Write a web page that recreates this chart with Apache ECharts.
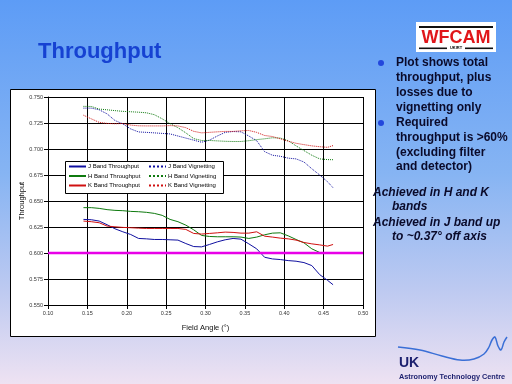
<!DOCTYPE html>
<html>
<head>
<meta charset="utf-8">
<script src="https://cdn.jsdelivr.net/npm/echarts@6/dist/echarts.min.js"></script>
<style>
html,body{margin:0;padding:0;}
#c{width:512px;height:384px;}
</style>
</head>
<body>
<div id="c"></div>
<script>
// ---- data ----
const fieldAngle = [0.145,0.155,0.165,0.175,0.185,0.195,0.205,0.215,0.225,0.235,0.245,0.255,0.265,0.275,0.285,0.295,0.305,0.315,0.325,0.335,0.345,0.355,0.365,0.375,0.385,0.395,0.405,0.415,0.425,0.435,0.445,0.455,0.462];
const jThroughput = [0.6323,0.6320,0.6307,0.6272,0.6233,0.6204,0.6178,0.6140,0.6136,0.6130,0.6130,0.6127,0.6124,0.6091,0.6062,0.6059,0.6082,0.6107,0.6127,0.6140,0.6133,0.6088,0.6040,0.5959,0.5943,0.5937,0.5927,0.5921,0.5908,0.5879,0.5792,0.5737,0.5695];
const hThroughput = [0.6436,0.6436,0.6429,0.6417,0.6410,0.6407,0.6400,0.6397,0.6391,0.6381,0.6362,0.6323,0.6301,0.6268,0.6223,0.6169,0.6159,0.6156,0.6156,0.6156,0.6153,0.6140,0.6153,0.6175,0.6191,0.6194,0.6165,0.6130,0.6098,0.6040,0.6005,null,null];
const kThroughput = [0.6307,0.6301,0.6291,0.6259,0.6252,0.6246,0.6243,0.6239,0.6236,0.6236,0.6236,0.6236,0.6236,0.6227,0.6188,0.6182,0.6188,0.6194,0.6201,0.6198,0.6191,0.6191,0.6204,0.6162,0.6153,0.6143,0.6136,0.6124,0.6101,0.6088,0.6078,0.6066,0.6082];
const jVignetting = [0.7393,0.7393,0.7377,0.7338,0.7274,0.7242,0.7193,0.7164,0.7160,0.7155,0.7150,0.7145,0.7125,0.7105,0.7085,0.7065,0.7085,0.7125,0.7160,0.7168,0.7165,0.7125,0.7080,0.6975,0.6940,0.6930,0.6912,0.6905,0.6875,0.6810,0.6750,0.6685,0.6627];
const hVignetting = [0.7410,0.7409,0.7384,0.7377,0.7369,0.7362,0.7358,0.7354,0.7348,0.7330,0.7290,0.7244,0.7205,0.7155,0.7100,0.7082,0.7082,0.7078,0.7074,0.7072,0.7072,0.7080,0.7090,0.7098,0.7108,0.7105,0.7080,0.7030,0.6985,0.6940,0.6905,0.6898,0.6897];
const kVignetting = [0.7325,0.7290,0.7256,0.7246,0.7243,0.7245,0.7230,0.7223,0.7222,0.7222,0.7222,0.7225,0.7222,0.7205,0.7170,0.7155,0.7160,0.7165,0.7169,0.7169,0.7175,0.7178,0.7160,0.7130,0.7120,0.7098,0.7075,0.7055,0.7042,0.7030,0.7022,0.7016,0.7033];
const requiredX = [0.10, 0.50];
const requiredY = [0.60, 0.60];
const seriesNames = ['J Band Throughput','H Band Throughput','K Band Throughput','J Band Vignetting','H Band Vignetting','K Band Vignetting'];
const xTitle = 'Field Angle (°)';
const yTitle = 'Throughput';

// ---- build ----
const FONT = '"Liberation Sans", Arial, sans-serif';
function pairs(xs, ys){ const out=[]; xs.forEach((x,i)=>{ if(ys[i]!=null) out.push([x, ys[i]]); }); return out; }
const cols = {J:'#1010a0', H:'#0f7a0f', K:'#d01010'};
function mk(name, ys, color, dotted){
  return {name, type:'line', data:pairs(fieldAngle, ys), symbol:'none', smooth:false,
    lineStyle:{color, width:1, type: dotted ? 'dotted' : 'solid'}, itemStyle:{color}, z:2, animation:false};
}
const chart = echarts.init(document.getElementById('c'), null, {renderer:'canvas'});
const txt = (x,y,s,font,fill,align)=>({type:'text', x, y, z:10, silent:true,
  style:{text:s, font, fill, align: align||'left', verticalAlign:'middle'}});
const bodyFont = 'bold 12px ' + FONT;
const itFont = 'italic bold 12px ' + FONT;
const ink = '#0a0a2a';
const legendBase = {orient:'vertical', top:163.5, padding:0, itemWidth:17, itemHeight:5, itemGap:3.5, z:5,
  itemStyle:{opacity:0, borderWidth:0},
  textStyle:{fontSize:6, color:'#000', lineHeight:6, padding:[0,0,0,-3]}};
chart.setOption({
  animation:false,
  backgroundColor: new echarts.graphic.LinearGradient(0,0,0,1,[
    {offset:0, color:'#5d9cf6'},{offset:0.45, color:'#86b4f3'},{offset:0.75, color:'#bcc9f1'},{offset:1, color:'#eee2f2'}]),
  textStyle:{fontFamily:FONT},
  grid:{left:48, right:149, top:97, bottom:79, containLabel:false},
  xAxis:{type:'value', min:0.10, max:0.50, interval:0.05,
    name:xTitle, nameLocation:'middle', nameGap:19, nameMoveOverlap:false, nameTextStyle:{fontSize:7.5, color:'#111', fontFamily:FONT},
    axisLine:{show:true, lineStyle:{color:'#000', width:1}},
    axisTick:{show:true, length:4, lineStyle:{color:'#000'}},
    axisLabel:{fontSize:5.5, color:'#333', margin:5, formatter:v=>v.toFixed(2)},
    splitLine:{show:true, lineStyle:{color:'#000', width:1}}},
  yAxis:{type:'value', min:0.55, max:0.75, interval:0.025,
    name:yTitle, nameLocation:'middle', nameGap:22, nameRotate:90, nameMoveOverlap:false, nameTextStyle:{fontSize:7.5, color:'#111', fontFamily:FONT},
    axisLine:{show:true, lineStyle:{color:'#000', width:1}},
    axisTick:{show:true, length:4, lineStyle:{color:'#000'}},
    axisLabel:{fontSize:5.5, color:'#333', margin:5, formatter:v=>v.toFixed(3)},
    splitLine:{show:true, lineStyle:{color:'#000', width:1}}},
  legend:[
    Object.assign({}, legendBase, {left:68, data:[seriesNames[0],seriesNames[1],seriesNames[2]]}),
    Object.assign({}, legendBase, {left:148, data:[seriesNames[3],seriesNames[4],seriesNames[5]]})
  ],
  graphic:[
    {type:'rect', z:-10, silent:true, shape:{x:10.5, y:89.5, width:365, height:247}, style:{fill:'#ffffff', stroke:'#000', lineWidth:1}},
    {type:'rect', z:3, silent:true, shape:{x:65.5, y:161.5, width:158, height:32}, style:{fill:'#ffffff', stroke:'#000', lineWidth:1}},
    txt(38, 52, 'Throughput', 'bold 22px ' + FONT, '#1642d2'),
    // WFCAM logo
    {type:'rect', z:8, silent:true, shape:{x:416, y:22, width:80, height:30}, style:{fill:'#ffffff'}},
    {type:'rect', z:9, silent:true, shape:{x:419, y:26, width:74, height:2}, style:{fill:'#111'}},
    txt(456, 38.5, 'WFCAM', 'bold 18px ' + FONT, '#e0161a', 'center'),
    {type:'rect', z:9, silent:true, shape:{x:419, y:47.5, width:28, height:1.6}, style:{fill:'#111'}},
    {type:'rect', z:9, silent:true, shape:{x:465, y:47.5, width:28, height:1.6}, style:{fill:'#111'}},
    txt(456, 48.3, 'UKIRT', 'bold 4px ' + FONT, '#111', 'center'),
    // bullets
    {type:'circle', z:9, silent:true, shape:{cx:381, cy:63, r:3}, style:{fill:'#2347dc'}},
    {type:'circle', z:9, silent:true, shape:{cx:381, cy:123, r:3}, style:{fill:'#2347dc'}},
    txt(396, 63, 'Plot shows total', bodyFont, ink),
    txt(396, 78, 'throughput, plus', bodyFont, ink),
    txt(396, 93, 'losses due to', bodyFont, ink),
    txt(396, 107.5, 'vignetting only', bodyFont, ink),
    txt(396, 123, 'Required', bodyFont, ink),
    txt(396, 138, 'throughput is >60%', bodyFont, ink),
    txt(396, 152.5, '(excluding filter', bodyFont, ink),
    txt(396, 167, 'and detector)', bodyFont, ink),
    txt(373, 192.5, 'Achieved in H and K', itFont, ink),
    txt(392, 207, 'bands', itFont, ink),
    txt(373, 222.5, 'Achieved in J band up', itFont, ink),
    txt(392, 237, 'to ~0.37° off axis', itFont, ink),
    // UK ATC logo
    {type:'polyline', z:9, silent:true, shape:{smooth:0.35, points:[[398,347],[420,350],[442,356],[460,360],[474,359],[484,354],[489,347],[492,340],[495,337],[498,346],[501,350],[504,342],[507,337]]},
      style:{stroke:'#3a6fd6', lineWidth:1.5, fill:null}},
    txt(399, 363, 'UK', 'bold 14px ' + FONT, '#1b1f6e'),
    txt(399, 377, 'Astronomy Technology Centre', 'bold 7.3px ' + FONT, '#1b1f6e')
  ],
  series:[
    mk(seriesNames[3], jVignetting, cols.J, true),
    mk(seriesNames[4], hVignetting, cols.H, true),
    mk(seriesNames[5], kVignetting, cols.K, true),
    mk(seriesNames[0], jThroughput, cols.J, false),
    mk(seriesNames[1], hThroughput, cols.H, false),
    mk(seriesNames[2], kThroughput, cols.K, false),
    {name:'Required', type:'line', data:pairs(requiredX, requiredY), symbol:'none', z:3,
      lineStyle:{color:'#e800e8', width:2.5}, silent:true}
  ]
});
</script>
</body>
</html>
